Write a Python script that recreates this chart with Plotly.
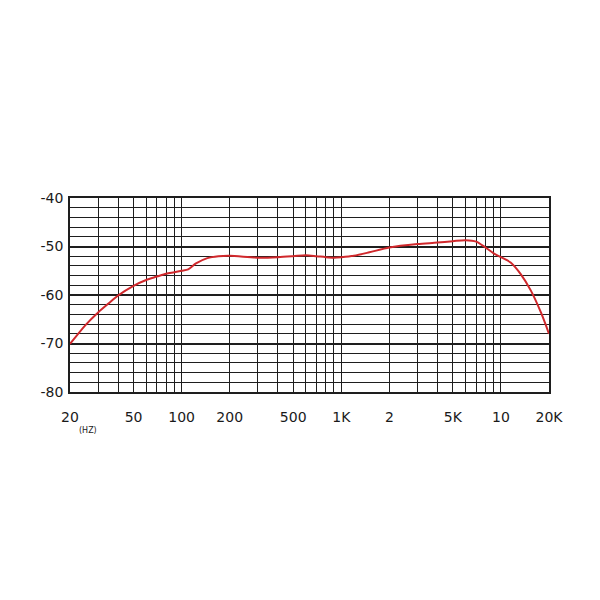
import plotly.graph_objects as go

# Frequency response data (Hz, dB)
freq_hz = [20, 25, 30, 35, 40, 50, 60, 70, 80, 90, 100, 110, 123, 145, 170, 200,
           300, 400, 500, 600, 700, 800, 900, 1000, 1200, 1500, 2000, 3000, 4000,
           5000, 6000, 7000, 8000, 9000, 10000, 11500, 13300, 15400, 17800, 20000]
level_db = [-70.1, -66.2, -63.6, -61.7, -60.1, -58.1, -56.9, -56.2, -55.6, -55.3,
            -55.0, -54.7, -53.5, -52.4, -52.0, -51.9, -52.3, -52.2, -52.0, -51.8,
            -52.0, -52.2, -52.3, -52.2, -51.9, -51.2, -50.2, -49.5, -49.2, -48.9,
            -48.7, -49.0, -50.2, -51.4, -52.2, -53.3, -55.7, -59.1, -63.6, -68.0]

# Axis grid / tick definitions
x_grid = [20, 30, 40, 50, 60, 70, 80, 90,
          100, 200, 300, 400, 500, 600, 700, 800, 900,
          1000, 2000, 3000, 4000, 5000, 6000, 7000, 8000, 9000,
          10000, 20000]
x_labels = {20: "20", 50: "50", 100: "100", 200: "200", 500: "500",
            1000: "1K", 2000: "2", 5000: "5K", 10000: "10", 20000: "20K"}
y_major = [-80, -70, -60, -50, -40]
y_major_text = ["-80", "-70", "-60", "-50", "-40"]
y_minor = [-78, -76, -74, -72, -68, -66, -64, -62, -58, -56, -54, -52, -48, -46, -44, -42]

grid_color = "#1e1e1e"
font = dict(family="DejaVu Sans", size=14, color="#1a1a1a")

fig = go.Figure()
fig.add_trace(go.Scatter(
    x=freq_hz, y=level_db, mode="lines",
    line=dict(color="#d0282c", width=2, shape="spline", smoothing=0.8),
    showlegend=False, hoverinfo="skip",
))

fig.update_layout(
    width=600, height=600,
    margin=dict(l=62, r=59, t=190, b=216),
    paper_bgcolor="white", plot_bgcolor="white",
    font=font,
    xaxis=dict(
        type="log",
        range=[1.30103, 4.30103],
        tickmode="array",
        tickvals=x_grid,
        ticktext=[x_labels.get(v, "") for v in x_grid],
        showgrid=True, gridcolor=grid_color, gridwidth=1.3,
        showline=True, linecolor=grid_color, linewidth=1.6, mirror=True,
        ticks="", ticklabelstandoff=11,
        zeroline=False, fixedrange=True,
        tickfont=font,
    ),
    yaxis=dict(
        range=[-80, -40],
        tickmode="array",
        tickvals=y_major, ticktext=y_major_text,
        showgrid=True, gridcolor=grid_color, gridwidth=1.8,
        minor=dict(tickmode="array", tickvals=y_minor, showgrid=True,
                   gridcolor=grid_color, gridwidth=1.2),
        showline=True, linecolor=grid_color, linewidth=1.6, mirror=True,
        ticks="", ticklabelstandoff=2,
        zeroline=False, fixedrange=True,
        tickfont=font,
    ),
    annotations=[dict(
        text="(HZ)", xref="paper", yref="paper",
        x=0.0376, y=-0.201, xanchor="center", yanchor="middle",
        showarrow=False, font=dict(family="DejaVu Sans", size=8, color="#1a1a1a"),
    )],
)

fig.write_html("out.html")
